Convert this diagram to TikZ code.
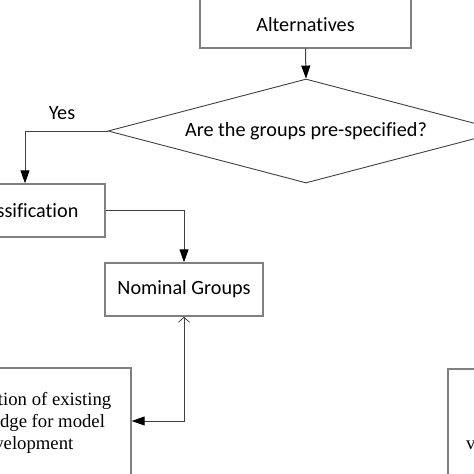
\documentclass[tikz,border=0pt]{standalone}
\usepackage{fontspec}
\setmainfont{Carlito}[Ligatures={NoCommon}]
\newfontfamily\seriffont{Liberation Serif}
\usetikzlibrary{arrows.meta,shapes.geometric}
\definecolor{boxgray}{HTML}{808080}
\definecolor{linegray}{HTML}{404040}
\tikzset{
  box/.style={draw=boxgray, line width=1.4pt, rectangle, inner sep=0pt, font=\fontsize{20.2}{24}\selectfont},
  decision/.style={draw=linegray, line width=0.9pt, diamond, shape aspect=3.8, inner sep=0pt, minimum width=396pt, minimum height=104pt, font=\fontsize{20.2}{24}\selectfont},
  conn/.style={draw=linegray, line width=1pt, -{Triangle[length=13pt,width=9pt,color=black]}},
  biconn/.style={draw=linegray, line width=1pt, {Straight Barb[length=5pt,width=11pt,line width=0.8pt]}-{Triangle[length=13pt,width=9pt,color=black]}},
  lbl/.style={inner sep=0pt, font=\fontsize{20.2}{24}\selectfont},
  stext/.style={inner sep=0pt, align=center, font=\seriffont\fontsize{18.7}{22}\selectfont}
}
\begin{document}
\begin{tikzpicture}[x=1pt,y=-1pt]
\useasboundingbox (0,0) rectangle (474,474);
\clip (0,0) rectangle (474,474);
% boxes
\node[box, minimum width=211pt, minimum height=54pt] (alt) at (305.5,21) {};
\node[lbl] (alttext) at (305.5,24.5) {Alternatives};
\node[decision] (dia) at (306,131) {Are the groups pre-specified?};
\node[lbl] (yes) at (62,113) {Yes};
\node[box, minimum width=160pt, minimum height=53pt] (cls) at (25,210.5) {Classification};
\node[box, minimum width=158pt, minimum height=53pt] (nom) at (184,289.5) {Nominal Groups};
\node[box, minimum width=212pt, minimum height=120pt] (lbox) at (25,428) {};
\node[stext] (ltext) at (25,423) {Application of existing\\knowledge for model\\development};
\node[box, minimum width=212pt, minimum height=120pt] (rbox) at (554,429) {};
\node[stext, anchor=base west] (rtext) at (466,449) {v};
\coordinate (j) at (184,421);
% connectors
\draw[conn] (alt.south) -- (dia.north);
\draw[conn] (dia.west) -| (cls.north);
\draw[conn] (cls.east) -| (nom.north);
\draw[biconn] (nom.south) -- (j) -- (lbox.east |- j);
\end{tikzpicture}
\end{document}
